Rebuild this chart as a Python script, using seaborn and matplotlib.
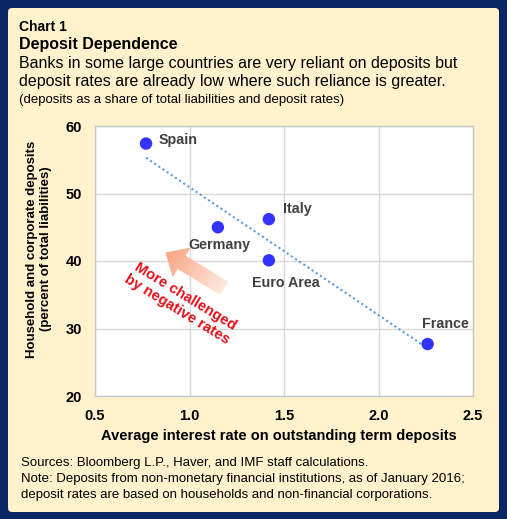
import numpy as np
import pandas as pd
import matplotlib
matplotlib.use("Agg")
import matplotlib.pyplot as plt
import seaborn as sns
from matplotlib.patches import FancyBboxPatch, Polygon
from matplotlib.transforms import IdentityTransform
from matplotlib.colors import LinearSegmentedColormap

# ---------------- data ----------------
countries = ["Spain", "Germany", "Italy", "Euro Area", "France"]
deposit_rate = [0.77, 1.15, 1.42, 1.42, 2.26]
deposit_share = [57.4, 45.0, 46.2, 40.1, 27.7]
x_ticks = [0.5, 1.0, 1.5, 2.0, 2.5]
y_ticks = [20, 30, 40, 50, 60]

df = pd.DataFrame({"country": countries, "rate": deposit_rate, "share": deposit_share})

# label placement (pixel offsets from the point)
label_offsets = {
    "Spain": (12.7, 3.4),
    "Italy": (14.4, 10.0),
    "Germany": (-29.6, -17.7),
    "Euro Area": (-16.6, -22.4),
    "France": (-5.6, 20.0),
}

W, H = 507, 519
sns.set_theme(style="white")
plt.rcParams['font.family'] = ['Liberation Sans', 'DejaVu Sans']

fig = plt.figure(figsize=(W / 100, H / 100), dpi=100)
fig.patch.set_facecolor('#0B2463')
panel = FancyBboxPatch((8 / W, 7 / H), 491 / W, 504 / H,
                       boxstyle="round,pad=0,rounding_size=0.008",
                       transform=fig.transFigure, facecolor='#FFF2CC',
                       edgecolor='none', zorder=-5)
fig.patches.append(panel)


def fy(py):
    return 1 - py / H


# titles
fig.text(19.3 / W, fy(30.7), "Chart 1", fontsize=10, fontweight='bold', va='baseline', color='black')
fig.text(19.3 / W, fy(48.7), "Deposit Dependence", fontsize=11.5, fontweight='bold', va='baseline', color='black')
fig.text(19.3 / W, fy(67.7), "Banks in some large countries are very reliant on deposits but",
         fontsize=11.5, va='baseline', color='black')
fig.text(19.3 / W, fy(86.0), "deposit rates are already low where such reliance is greater.",
         fontsize=11.5, va='baseline', color='black')
fig.text(19.3 / W, fy(102.7), "(deposits as a share of total liabilities and deposit rates)",
         fontsize=9.5, va='baseline', color='black')

# footer
fig.text(20.7 / W, fy(466), "Sources: Bloomberg L.P., Haver, and IMF staff calculations.",
         fontsize=9.5, va='baseline', color='black')
fig.text(20.7 / W, fy(482), "Note: Deposits from non-monetary financial institutions, as of January 2016;",
         fontsize=9.5, va='baseline', color='black')
fig.text(20.7 / W, fy(498), "deposit rates are based on households and non-financial corporations.",
         fontsize=9.5, va='baseline', color='black')

# axes
ax = fig.add_axes([95 / W, (H - 396) / H, 378 / W, 270 / H])
ax.set_facecolor('white')

sns.regplot(data=df, x="rate", y="share", scatter=False, ci=None, truncate=True, ax=ax,
            line_kws=dict(color='#5B9BD5', lw=1.5, ls=(0, (1, 1.4)), zorder=3))
sns.scatterplot(data=df, x="rate", y="share", color='#3333FF', s=80, edgecolor='none',
                zorder=4, ax=ax, legend=False)

for c, xv, yv in zip(countries, deposit_rate, deposit_share):
    dx, dy = label_offsets[c]
    ax.annotate(c, (xv, yv), xytext=(dx, dy), textcoords='offset pixels',
                ha='left', va='center', fontsize=10.3, fontweight='bold',
                color='#404040', zorder=6)

ax.set_xlim(0.5, 2.5)
ax.set_ylim(20, 60)
ax.set_xticks(x_ticks)
ax.set_xticklabels([f"{v:.1f}" for v in x_ticks])
ax.set_yticks(y_ticks)
ax.set_yticklabels([f"{v}" for v in y_ticks])
ax.tick_params(length=0, labelsize=10.5, colors='black')
ax.tick_params(axis='y', pad=9.5)
ax.tick_params(axis='x', pad=9)
for lab in ax.get_xticklabels() + ax.get_yticklabels():
    lab.set_fontweight('bold')

ax.grid(True, color='#D9D9D9', lw=1)
ax.set_axisbelow(True)
for s in ax.spines.values():
    s.set_color('#C8C8C8')
    s.set_linewidth(1)

ax.set_xlabel("Average interest rate on outstanding term deposits", fontsize=10.5,
              fontweight='bold', color='black', va='baseline')
ax.xaxis.set_label_coords((279 - 95) / 378, -(440 - 396) / 270)
ax.set_ylabel("Household and corporate deposits\n(percent of total liabilities)", fontsize=9.5,
              fontweight='bold', color='black', va='center', linespacing=1.3)
ax.yaxis.set_label_coords((39 - 95) / 378, (396 - 249) / 270)

# gradient arrow (display pixels, origin bottom-left)
tip = np.array([165.5, H - 252.5])
tail = np.array([224.2, H - 288.3])
L = np.linalg.norm(tip - tail)
d = (tip - tail) / L
n = np.array([-d[1], d[0]])
head_len, head_w, shaft_w = 19.0, 35.0, 15.5
base = tip - d * head_len
pts = [tail + n * shaft_w / 2, base + n * shaft_w / 2, base + n * head_w / 2, tip,
       base - n * head_w / 2, base - n * shaft_w / 2, tail - n * shaft_w / 2]
poly = Polygon(pts, closed=True, transform=IdentityTransform(), facecolor='none',
               edgecolor='none')
ax.add_patch(poly)

P = np.array(pts)
x0p, x1p = P[:, 0].min() - 2, P[:, 0].max() + 2
y0p, y1p = P[:, 1].min() - 2, P[:, 1].max() + 2
inv = ax.transData.inverted()
(dx0, dy0), (dx1, dy1) = inv.transform([(x0p, y0p), (x1p, y1p)])
gx, gy = np.meshgrid(np.linspace(x0p, x1p, 120), np.linspace(y0p, y1p, 120))
t = ((gx - tail[0]) * d[0] + (gy - tail[1]) * d[1]) / L
cmap = LinearSegmentedColormap.from_list("arr", ['#FDEADF', '#F8A584'])
im = ax.imshow(t, extent=[dx0, dx1, dy0, dy1], origin='lower', cmap=cmap, vmin=0, vmax=1,
               aspect='auto', interpolation='bilinear', zorder=2)
im.set_clip_path(poly)
ax.set_xlim(0.5, 2.5)
ax.set_ylim(20, 60)

fig.text(181 / W, fy(303), "More challenged\nby negative rates", fontsize=10.6,
         fontweight='bold', color='#E3101A', rotation=-31.5, rotation_mode='anchor',
         ha='center', va='center', multialignment='center', linespacing=1.2, zorder=7)

fig.savefig("out.png", dpi=100, facecolor=fig.get_facecolor())
